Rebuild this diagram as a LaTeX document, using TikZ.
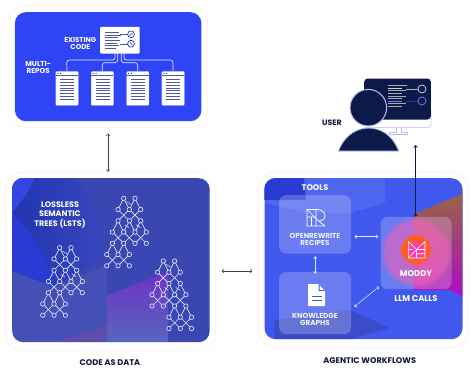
\documentclass[tikz,border=0pt]{standalone}
\usepackage{fontspec}
\setmainfont{Poppins}
\usetikzlibrary{arrows.meta,fadings}
\definecolor{rblue}{HTML}{2F45F5}
\definecolor{navy}{HTML}{0C1A4A}
\definecolor{inktext}{HTML}{10183A}
\definecolor{lanes}{HTML}{3A47B2}
\definecolor{agent}{HTML}{4058EE}
\definecolor{linework}{HTML}{E4E6FF}
\definecolor{docline}{HTML}{4A5AA8}
\tikzset{
  halo/.style={fill=white,draw=black!4,line width=.8pt,rounded corners=16pt,inner sep=0pt,anchor=north west},
  panel/.style={inner sep=0pt,rounded corners=11pt,anchor=north west},
  card/.style={fill=white,fill opacity=.22,rounded corners=7pt,inner sep=0pt,anchor=north west},
  whitelabel/.style={text=white,font=\fontsize{7.2}{8}\selectfont\bfseries,align=center,inner sep=0pt},
  darklabel/.style={text=inktext,font=\fontsize{8.2}{9}\selectfont\bfseries,align=center,inner sep=0pt},
  window/.style={fill=white,draw=rblue!40!white,line width=.3pt,rounded corners=1pt,inner sep=0pt,minimum width=22.4pt,minimum height=34pt,anchor=north west},
  biarrow/.style={{Straight Barb[length=2pt,width=3.6pt]}-{Straight Barb[length=2pt,width=3.6pt]},line width=.55pt},
  softarrow/.style={biarrow,draw=linework},
  darkarrow/.style={biarrow,draw=black!75},
  feed/.style={draw=linework,line width=.7pt,rounded corners=2.5pt},
  treeline/.style={draw=linework,line width=.65pt,shorten >=2.2pt,shorten <=2.2pt},
  treenode/.style={draw=linework,line width=.65pt},
}
% One lossless semantic tree: #1,#2 top-left node, #3 sideways shift of the two lowest rows
\newcommand{\semtree}[3]{%
  \begin{scope}[shift={(#1,#2)},x=11.3pt,y=-11.25pt]
    \foreach \ax/\ay/\bx/\by in {0/0/-.5/1,0/0/.5/1,1/0/.5/1,1/0/1.5/1,
      -.5/1/.5/2,.5/1/-.5/2,.5/1/1.5/2,1.5/1/.5/2,
      -.5/2/-1/3,-.5/2/0/3,.5/2/0/3,.5/2/1/3,1.5/2/1/3,1.5/2/2/3,
      -1/3/0/4,0/3/-1/4,0/3/1/4,1/3/0/4,1/3/2/4,2/3/1/4}
      \draw[treeline] (\ax,\ay) -- (\bx,\by);
    \foreach \ax/\bx in {-1/-1.5,-1/-.5,0/-.5,0/.5}
      \draw[treeline] ({\ax+#3},4) -- ({\bx+#3},5);
    \foreach \ax/\bx in {-1.5/-.5,-.5/-1.5,-.5/.5,.5/-.5}
      \draw[treeline] ({\ax+#3},5) -- ({\bx+#3},6);
    \foreach \px in {0,1} \draw[treenode] (\px,0) circle (2.2pt);
    \foreach \py in {1,2} \foreach \px in {-.5,.5,1.5} \draw[treenode] (\px,\py) circle (2.2pt);
    \foreach \py in {3,4} \foreach \px in {-1,0,1,2} \draw[treenode] (\px,\py) circle (2.2pt);
    \foreach \py in {5,6} \foreach \px in {-1.5,-.5,.5} \draw[treenode] ({\px+#3},\py) circle (2.2pt);
    % short side ticks between rows
    \draw[linework,line width=.5pt] (.25,.3) -- (.65,.55) (.1,2.35) -- (.45,2.6) (1.1,2.35) -- (1.5,2.6);
  \end{scope}}
% Stack of short text lines inside a repository window
\newcommand{\winlines}[1]{%
  \foreach \k in {0,...,7}
    \draw[docline,line width=.8pt] (#1+4.5,{79.4+\k*2.87}) -- (#1+18.5,{79.4+\k*2.87});
  \fill[navy] (#1+2.2,73.4) circle (.6pt) (#1+5,73.4) circle (.6pt);}
\begin{document}
\begin{tikzpicture}[x=1pt,y=-1pt]
\useasboundingbox (0,0) rectangle (474,380);

% ---------- existing code panel ----------
\node[halo,minimum width=198pt,minimum height=122pt] at (9,5) {};
\node[panel,fill=rblue,minimum width=186.5pt,minimum height=109pt] (repos) at (14.7,12) {};

\node[fill=white,rounded corners=1pt,inner sep=0pt,minimum width=39.5pt,minimum height=26.6pt,anchor=north west] (code) at (100,26.7) {};
\foreach \yy/\xe in {32.2/119,34.9/121,37.6/118,40.3/120,43/117,45.7/119,48.2/116}
  \draw[docline,line width=.8pt] (105.3,\yy) -- (\xe,\yy);
\draw[docline,line width=.4pt] (120,34.3) -- (127.5,34.3) (120,43.7) -- (127.5,43.7);
\draw[rblue!70!navy,line width=.7pt] (131,34.3) circle (3.4pt) (131,43.7) circle (3.4pt);
\draw[rblue!70!navy,line width=.6pt] (129.4,35.6) -- (132.6,33) (130,42.4) -- (132.4,45);

\node[window] (w1) at (55.7,71.3) {};
\node[window] (w2) at (91,71.3) {};
\node[window] (w3) at (126.4,71.3) {};
\node[window] (w4) at (161.7,71.3) {};
\draw[docline,line width=.3pt] (55.7,75.6) -- (78.1,75.6) (91,75.6) -- (113.4,75.6) (126.4,75.6) -- (148.8,75.6) (161.7,75.6) -- (184.1,75.6);
\winlines{55.7}\winlines{91}\winlines{126.4}\winlines{161.7}

\draw[feed] (115,53.3) -- (115,60) -- (66.7,60) -- (w1.north);
\draw[feed] (117.7,53.3) -- (117.7,62.7) -- (102.2,62.7) -- (w2.north);
\draw[feed] (121.3,53.3) -- (121.3,62.7) -- (137.6,62.7) -- (w3.north);
\draw[feed] (124,53.3) -- (124,60) -- (172.9,60) -- (w4.north);

\node[whitelabel,font=\fontsize{7}{7.6}\selectfont\bfseries] (existing) at (80.3,43.4) {EXISTING\\[-.4pt]CODE};
\node[whitelabel] (multi) at (38.2,67.5) {MULTI-\\[-.4pt]REPOS};

% ---------- code as data panel ----------
\node[halo,minimum width=210pt,minimum height=178pt] at (5,172) {};
\node[panel,fill=lanes,minimum width=197.5pt,minimum height=164pt] (data) at (12,178) {};
\begin{scope}
  \clip[rounded corners=11pt] (12,178) rectangle (209.5,342);
  % overlapping arcs in the upper left, darkening towards the corner
  \shade[left color=rblue!60!navy,right color=lanes!85!rblue] (12,178) -- (72,178) .. controls (95,195) and (103,220) .. (103,258) -- (55,287) -- (12,271) -- cycle;
  \fill[rblue!80!navy] (12,213) .. controls (32,232) and (48,258) .. (55,287) -- (12,271) -- cycle;
  \fill[rblue!75!lanes] (12,178) -- (34,178) .. controls (28,195) and (18,205) .. (12,213) -- cycle;
  % lighter floor and the pink column
  \fill[white,opacity=.05] (12,271) -- (55,287) -- (107,265) -- (107,342) -- (12,342) -- cycle;
  \shade[top color=magenta!40!lanes,bottom color=lanes!75!white,opacity=.65] (107,295) -- (168,272) -- (168,342) -- (107,342) -- cycle;
  \fill[magenta!40!lanes,opacity=.3] (56,342) -- (107,325) -- (107,342) -- cycle;
\end{scope}
\node[whitelabel,font=\fontsize{8}{8.8}\selectfont\bfseries] (lst) at (60,214.7) {LOSSLESS\\[.6pt]SEMANTIC\\[.6pt]TREES (LSTS)};
\semtree{59.7}{247.7}{0}
\semtree{123.7}{198.3}{0}
\semtree{163.3}{261}{2}
\node[darklabel] (cad) at (110,362.7) {CODE AS DATA};

% ---------- agentic workflows panel ----------
\node[halo,minimum width=209pt,minimum height=175pt] at (258,172) {};
\node[panel,fill=agent,minimum width=198pt,minimum height=161pt] (agents) at (264.3,178) {};
\begin{scope}
  \clip[rounded corners=11pt] (264.3,178) rectangle (462.3,339);
  \fill[rblue!80!navy] (264.3,178) -- (304,178) -- (306,200) -- (264.3,200) -- cycle;
  \fill[white,opacity=.09] (264.3,200) -- (306,200) -- (307,213) -- (264.3,203) -- cycle;
  \fill[white,opacity=.08] (304,178) -- (385,178) -- (385,203) -- (350,213) -- (307,213) -- cycle;
  \shade[top color=orange!60!black!85,bottom color=magenta!75!black,opacity=.85] (414,214) -- (462.3,194) -- (462.3,297) -- (451,290) -- (414,290) -- cycle;
  \fill[rblue!70!navy!90] (274,320) -- (350,310) -- (390,328) -- (351,339) -- (274,339) -- cycle;
\end{scope}
\node[card,minimum width=72pt,minimum height=58.3pt] (recipes) at (279,195) {};
\node[card,minimum width=72pt,minimum height=62pt] (graphs) at (279,272) {};
\begin{scope}
  \clip[rounded corners=7pt] (380.3,216.7) rectangle (451.3,289);
  \fill[magenta!80!white,opacity=.6,path fading=circle with fuzzy edge 15 percent] (416,252) circle (36pt);
\end{scope}
\node[card,minimum width=71pt,minimum height=72.3pt] (moody) at (380.3,216.7) {};
\shade[inner color=magenta!85!white,outer color=orange!80!red] (416,250) circle (14.6pt);

% rule-and-arc mark above the recipes label
\draw[white,line width=.75pt,line join=round] (307,209.5) -- (316,209.5) .. controls (323,209.5) and (325,213) .. (325,216) .. controls (325,219) and (322,221) .. (318.5,221) -- (325,226) -- (307,226) -- cycle;
\draw[white,line width=.6pt] (307,209.5) -- (318.5,221) (307,217) -- (316,217) (311.5,217) -- (311.5,226) (316,217) -- (316,226) (316,209.5) -- (316,217);

% document mark above the graphs label
\fill[white] (308,284) -- (318.5,284) -- (325.2,291) -- (325.2,306) -- (308,306) -- cycle;
\fill[agent] (318.5,284) -- (318.5,291) -- (325.2,291) -- cycle;
\fill[white] (319.6,285.3) -- (319.6,290) -- (324.1,290) -- cycle;
\draw[agent,line width=.9pt] (311.5,296) -- (321.7,296) (311.5,300) -- (321.7,300);

% Moody mark
\draw[white,line width=.6pt,line join=round] (408.3,241.5) -- (416.5,249.5) -- (425,241.5) -- (425,258) -- (408.3,258) -- cycle;
\draw[white,line width=.6pt] (408.3,258) -- (416.5,249.5) (416.5,249.5) -- (425,249.5) (416.5,249.5) -- (416.5,258) (416.5,253.7) -- (425,253.7) (408.3,249.5) -- (412.5,249.5);

\node[whitelabel,font=\fontsize{8.2}{9}\selectfont\bfseries] (tools) at (315,187.7) {TOOLS};
\node[whitelabel,text=white!92!agent] (rwlabel) at (315,239.5) {OPENREWRITE\\[-.9pt]RECIPES};
\node[whitelabel,text=white!92!agent] (kglabel) at (315,319.3) {KNOWLEDGE\\[-.9pt]GRAPHS};
\node[whitelabel,font=\fontsize{8.4}{9.4}\selectfont\bfseries] (moodylabel) at (416,273.3) {MODDY};
\node[whitelabel,font=\fontsize{8.4}{9.4}\selectfont\bfseries] (llm) at (416,298.3) {LLM CALLS};
\node[darklabel] (awf) at (369.7,360.3) {AGENTIC WORKFLOWS};

% ---------- user at the monitor ----------
\fill[white] (364,100) rectangle (431,128);
\draw[rblue!35!white,line width=.5pt,rounded corners=3pt] (364,120) -- (364,127.6) -- (431,127.6) -- (431,110);
\draw[rblue!35!white,line width=.5pt] (396,127.6) -- (396,132) -- (389.5,132) -- (389.5,134) -- (407,134) -- (407,132) -- (401,132) -- (401,127.6);
\node[fill=navy,rounded corners=3.5pt,inner sep=0pt,minimum width=66.7pt,minimum height=41pt,anchor=north west] (screen) at (364,78.3) {};
\foreach \yy/\xe/\cc in {85.3/406.5/gray!65,88/402/gray!35,90.7/406/gray!65,93.4/402/gray!65,96.1/406/gray!65,98.8/402/gray!65,101.2/402/rblue!70!white,103.9/406/gray!65,106.6/402/gray!65}
  \draw[\cc,line width=.9pt] (387.8,\yy) -- (\xe,\yy);
\draw[gray!60,line width=.3pt] (406,89) -- (418,89);
\draw[rblue!60!navy,line width=.3pt] (406,101) -- (418,101);
\draw[white!85!navy,line width=.7pt] (422,89) circle (4pt);
\draw[rblue!65!white,line width=.7pt] (422,101) circle (4pt);
\draw[fill=navy,draw=rblue!35!white,line width=.9pt] (338.4,151) .. controls (345,134) and (358,128) .. (368.5,128) .. controls (380,128) and (392,134) .. (398.8,151) -- cycle;
\draw[fill=navy,draw=rblue!35!white,line width=1pt] (368.3,107.7) circle (18.3pt);
\node[darklabel,font=\fontsize{7.8}{9}\selectfont\bfseries] (user) at (332,122.7) {USER};
\coordinate (userfoot) at (415.6,145);

% ---------- connectors ----------
\draw[darkarrow] (108,133.5) -- (108,172);
\draw[darkarrow] (221.5,271) -- (252.5,271);
\draw[biarrow,draw=navy,line width=.8pt] (userfoot) -- (moody.north -| userfoot);
\draw[softarrow] (354.3,236.7) -- (378.5,236.7);
\draw[softarrow] (recipes.south) ++(0,2.4) -- ([yshift=-1.8pt]graphs.north);
\draw[softarrow] (354.3,306.7) -- (379,286.8);
\end{tikzpicture}
\end{document}
